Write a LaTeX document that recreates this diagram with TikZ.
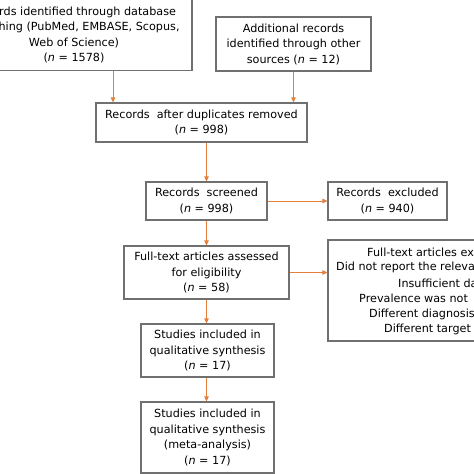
\documentclass[tikz,border=0pt]{standalone}
\usepackage{fontspec}
\setmainfont{DejaVu Sans}
\usetikzlibrary{arrows.meta}
\definecolor{boxgray}{HTML}{707070}
\definecolor{arrorange}{HTML}{E3803C}
\begin{document}
\begin{tikzpicture}[x=1pt,y=-1pt,
  box/.style={draw=boxgray,line width=1.1pt,align=center,inner sep=0pt,
    font=\fontsize{11.2}{15.5}\selectfont},
  linetext/.style={anchor=west,inner sep=0pt,font=\fontsize{11.2}{15.5}\selectfont},
  arr/.style={draw=arrorange,line width=0.8pt,-{Triangle[length=5pt,width=4.5pt]},color=arrorange}]
\useasboundingbox (0,0) rectangle (474,474);
\fill[white] (0,0) rectangle (474,474);
\node[box,minimum width=236pt,minimum height=71pt] (b1) at (74,35)
  {Records identified through database\\searching (PubMed, EMBASE, Scopus,\\Web of Science)\\(\textit{n} = 1578)};
\node[box,minimum width=155pt,minimum height=54pt] (b2) at (293.5,44)
  {Additional records\\identified through other\\sources (\textit{n} = 12)};
\node[box,minimum width=211pt,minimum height=39pt] (b3) at (201.5,122.5)
  {Records\ \ after duplicates removed\\(\textit{n} = 998)};
\node[box,minimum width=121pt,minimum height=38pt] (b4) at (206.5,201)
  {Records\ \ screened\\(\textit{n} = 998)};
\node[box,minimum width=119pt,minimum height=38pt] (b5) at (387.5,201)
  {Records\ \ excluded\\(\textit{n} = 940)};
\node[box,minimum width=165pt,minimum height=53pt] (b6) at (206.5,272.5)
  {Full-text articles assessed\\for eligibility\\(\textit{n} = 58)};
\node[box,minimum width=172pt,minimum height=101pt] (b7) at (414,290.5) {};
\node[linetext] (l1) at (367,252) {Full-text articles excluded};
\node[linetext] (l2) at (336,267.5) {Did not report the relevant};
\node[linetext] (l3) at (398,283) {Insufficient data};
\node[linetext] (l4) at (359,298.5) {Prevalence was not};
\node[linetext] (l5) at (369,314) {Different diagnosis};
\node[linetext] (l6) at (384,329.5) {Different target};
\node[box,minimum width=133pt,minimum height=53pt] (b8) at (207.5,350.5)
  {Studies included in\\qualitative synthesis\\(\textit{n} = 17)};
\node[box,minimum width=133pt,minimum height=71pt] (b9) at (207.5,437.5)
  {Studies included in\\qualitative synthesis\\(meta-analysis)\\(\textit{n} = 17)};
\draw[arr] ([xshift=39pt]b1.south) -- ([xshift=39pt]b1.south |- b3.north);
\draw[arr] (b2.south) -- (b2.south |- b3.north);
\draw[arr] (b4.north |- b3.south) -- (b4.north);
\draw[arr] (b4.east) -- (b5.west);
\draw[arr] (b4.south) -- (b6.north);
\draw[arr] (b6.east) -- (b6.east -| b7.west);
\draw[arr] (b6.south) -- (b6.south |- b8.north);
\draw[arr] (b8.south -| b6.south) -- (b6.south |- b9.north);
\end{tikzpicture}
\end{document}
